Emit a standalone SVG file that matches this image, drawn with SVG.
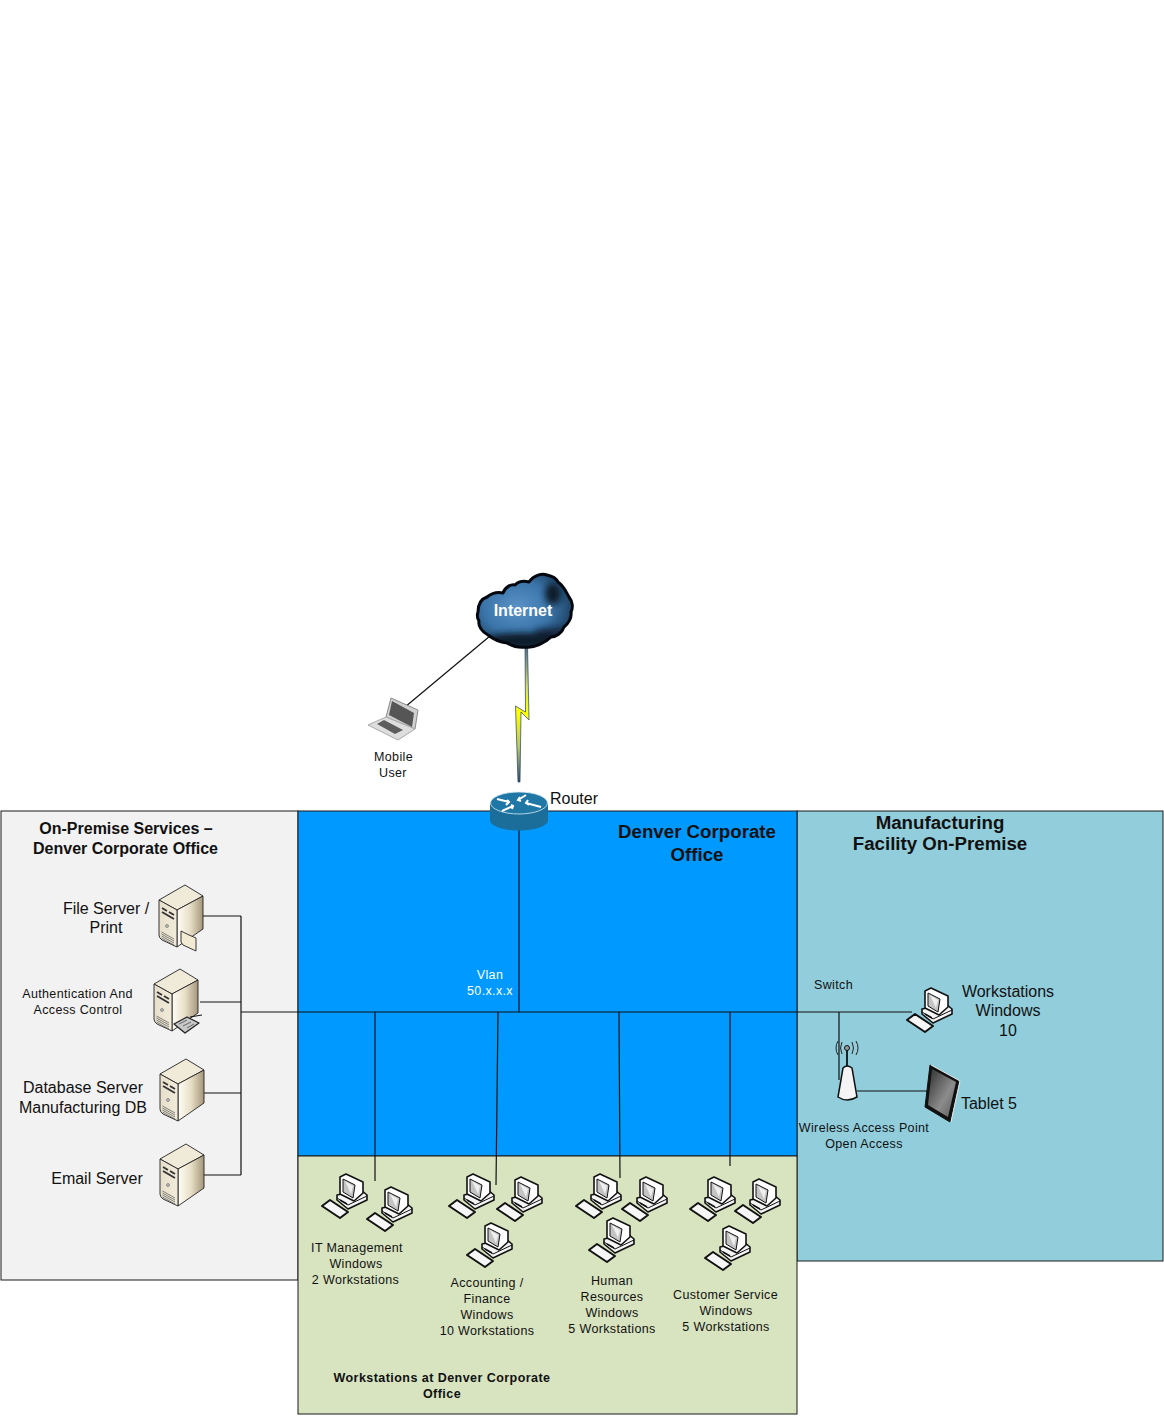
<svg xmlns="http://www.w3.org/2000/svg" width="1164" height="1416" viewBox="0 0 1164 1416">
<style>
text{font-family:"Liberation Sans",Arial,sans-serif;text-anchor:middle;fill:#111}
.s{font-size:12.500px;letter-spacing:.35px}
.m{font-size:16px}
.b{font-size:16px;font-weight:bold}
.b2{font-size:18.700px;font-weight:bold}
.b3{font-size:12.500px;font-weight:bold;letter-spacing:.45px}
.panel{stroke:#1a1a1a;stroke-width:1}
.ln{fill:none;stroke:#111;stroke-width:1.200}
</style>
<defs>
<linearGradient id="srvL" x1="0" y1="0" x2="1" y2="0"><stop offset="0" stop-color="#e6dfcb"/><stop offset="1" stop-color="#f1ebda"/></linearGradient>
<linearGradient id="srvR" x1="0" y1="0" x2="1" y2="0"><stop offset="0" stop-color="#fffdf6"/><stop offset=".5" stop-color="#e8dfc8"/><stop offset="1" stop-color="#a4967a"/></linearGradient>
<radialGradient id="cl" cx=".42" cy=".45" r=".6"><stop offset="0" stop-color="#5a92c8"/><stop offset=".6" stop-color="#3a74a8"/><stop offset="1" stop-color="#1d3f60"/></radialGradient>
<linearGradient id="bolt" x1="0" y1="0" x2="0" y2="1"><stop offset="0" stop-color="#4a6a92"/><stop offset=".3" stop-color="#d8e060"/><stop offset=".5" stop-color="#ffff00"/><stop offset=".75" stop-color="#b8c860"/><stop offset="1" stop-color="#2b4f80"/></linearGradient>
<linearGradient id="scr" x1="0" y1="0" x2="1" y2="1"><stop offset="0" stop-color="#2e2e2e"/><stop offset=".6" stop-color="#8c8c8c"/><stop offset="1" stop-color="#5a5a5a"/></linearGradient>
<filter id="blur" x="-40%" y="-40%" width="180%" height="180%"><feGaussianBlur stdDeviation="3"/></filter>
<clipPath id="cloudClip"><path d="M478 612C478 604 481 599 487 597 492 593 498 592 503 593 505 587 511 584 515 585 519 581 525 581 529 582 534 575 542 573 547 575 552 576 556 578 558 582 564 586 566 592 569 597 573 602 573 608 571 612 572 618 568 624 564 627 562 633 556 637 551 637 545 643 534 648 526 647 519 648 512 646 507 643 499 642 493 639 488 635 482 632 478 626 479 621 477 618 477 615 478 612Z"/></clipPath>
<symbol id="srv" viewBox="0 0 44 62" width="44" height="62" overflow="visible">
<path d="M0 15 26 0 44 11 18 25Z" fill="#f0ead9" stroke="#222" stroke-width=".9" stroke-linejoin="round"/>
<path d="M18 25 44 11V44L18 62Z" fill="url(#srvR)" stroke="#222" stroke-width=".9" stroke-linejoin="round"/>
<path d="M0 15 18 25V62L3 55Q0 53 0 50Z" fill="url(#srvL)" stroke="#222" stroke-width=".9" stroke-linejoin="round"/>
<path d="M3 23 8 26M10 27 15 30M3 27 15 34" stroke="#333" stroke-width="1.800" fill="none"/>
<circle cx="8" cy="41" r="1.500" fill="#bbb" stroke="#666" stroke-width=".6"/>
<path d="M2.500 47 15 54M2.500 49 15 56M2.500 51 15 58M2.500 53 15 60" stroke="#555" stroke-width=".7" fill="none"/>
</symbol>
<symbol id="ws" viewBox="0 0 44 44" width="44" height="44" overflow="visible">
<path d="M13 21 37 16 43 21V26L24 35 13 26Z" fill="#f4f4f4" stroke="#111" stroke-width="1.600" stroke-linejoin="round"/>
<path d="M13 24 24 31 43 22" fill="none" stroke="#111" stroke-width="1"/>
<path d="M16 26 23 30" stroke="#111" stroke-width="1.500"/>
<path d="M16 3 22 0 39 8 39 19 30 27 16 20Z" fill="#fff" stroke="#111" stroke-width="1.600" stroke-linejoin="round"/>
<path d="M19 5 31 11 29 24 19 18Z" fill="#c4c4c4" stroke="#111" stroke-width="1"/>
<path d="M21 7 29 12 27 20Z" fill="#efefef"/>
<path d="M-2 32 6 26 24 38 16 44Z" fill="#f6f6f6" stroke="#111" stroke-width="2" stroke-linejoin="round"/>
</symbol>
</defs>
<rect width="1164" height="1416" fill="#fff"/>
<g id="panels">
<rect id="panel-onprem" class="panel" x="1" y="811" width="297" height="469" fill="#f2f2f2"/>
<rect id="panel-mfg" class="panel" x="797" y="811" width="366" height="450" fill="#92cddc"/>
<rect id="panel-denver" class="panel" x="298" y="811" width="499" height="345" fill="#0099ff"/>
<rect id="panel-ws" class="panel" x="298" y="1156" width="499" height="258" fill="#d8e3bf"/>
</g>
<g id="connectors">
<path class="ln" d="M203 916H241M200 1002H241M203 1093H241M203 1175H241M241 916V1175M241 1012H912"/>
<path class="ln" d="M519 825V1012M375 1012V1181M498 1012 496 1185M619 1012 620 1178M730 1012V1166"/>
<path class="ln" d="M839 1012V1080M857 1091H930"/>
<path class="ln" d="M490 636 405 707"/>
<path id="bolt-link" d="M525 645H527.500L529 720 521 712 520 782H518L515.500 706 525.500 712Z" fill="url(#bolt)" stroke="#26415f" stroke-width=".7"/>
</g>
<g id="internet">
<path d="M478 612C478 604 481 599 487 597 492 593 498 592 503 593 505 587 511 584 515 585 519 581 525 581 529 582 534 575 542 573 547 575 552 576 556 578 558 582 564 586 566 592 569 597 573 602 573 608 571 612 572 618 568 624 564 627 562 633 556 637 551 637 545 643 534 648 526 647 519 648 512 646 507 643 499 642 493 639 488 635 482 632 478 626 479 621 477 618 477 615 478 612Z" fill="url(#cl)"/>
<g clip-path="url(#cloudClip)">
<g filter="url(#blur)" fill="#0a1a2c">
<ellipse cx="522" cy="641" rx="38" ry="8"/>
<ellipse cx="553" cy="594" rx="8" ry="11"/>
<ellipse cx="552" cy="632" rx="18" ry="4" opacity=".8"/>
</g>
</g>
<path d="M478 612C478 604 481 599 487 597 492 593 498 592 503 593 505 587 511 584 515 585 519 581 525 581 529 582 534 575 542 573 547 575 552 576 556 578 558 582 564 586 566 592 569 597 573 602 573 608 571 612 572 618 568 624 564 627 562 633 556 637 551 637 545 643 534 648 526 647 519 648 512 646 507 643 499 642 493 639 488 635 482 632 478 626 479 621 477 618 477 615 478 612Z" fill="none" stroke="#04080e" stroke-width="3" stroke-linejoin="round"/>
<text class="b" x="523" y="616" style="fill:#fff">Internet</text>
</g>
<g id="mobile-user">
<path d="M391 698 418 710 415 729 386 717Z" fill="#d0d0d0" stroke="#8a8a8a" stroke-width="1" stroke-linejoin="round"/>
<path d="M392 701 414 713 412 727 389 715Z" fill="#565656"/>
<path d="M386 717 415 729 398 740 368 725Z" fill="#dedede" stroke="#aaa" stroke-width="1" stroke-linejoin="round"/>
<path d="M384 720 403 730 395 734 377 724Z" fill="#5c5c5c"/>
<text class="s" x="393.500" y="761">Mobile</text>
<text class="s" x="393" y="777">User</text>
</g>
<g id="router">
<path d="M490 803V820C490 826 503 830.500 519 830.500S548 826 548 820V803Z" fill="#1b6d9a"/>
<ellipse cx="519" cy="803" rx="28.500" ry="11" fill="#1f77a6" stroke="#d8ecf4" stroke-width=".8"/>
<path d="M497 799 509 802M507 800 509 802 506 805M502 811 513 806M511 805 513 806 512 809M526 795 518 800M520 797 518 800 521 801M541 807 526 803M528 800 526 803 529 805" stroke="#fff" stroke-width="2" fill="none"/>
<text class="m" x="574" y="804">Router</text>
</g>
<g id="onprem-label"><text class="b" x="126" y="834">On-Premise Services –</text><text class="b" x="125.500" y="854">Denver Corporate Office</text></g>
<g id="file-server"><use href="#srv" x="159" y="885"/><path d="M181 931 189 935 196 938V951L183 945 181 942Z" fill="#f2ead2" stroke="#222" stroke-width=".9"/><text class="m" x="106" y="914">File Server /</text><text class="m" x="106" y="933">Print</text></g>
<g id="auth-server"><use href="#srv" x="154" y="969"/><path d="M190 1017 202 1015" stroke="#111" stroke-width="1"/><path d="M174 1024 187 1017 199 1023 185 1033Z" fill="#c8c8c8" stroke="#222" stroke-width="1.300" stroke-linejoin="round"/><path d="M179 1024 187 1020M183 1026 191 1022M187 1028 194 1024" stroke="#666" stroke-width="1"/><text class="s" x="77.500" y="998">Authentication And</text><text class="s" x="78" y="1014">Access Control</text></g>
<g id="db-server"><use href="#srv" x="160" y="1059"/><text class="m" x="83" y="1093">Database Server</text><text class="m" x="83" y="1113">Manufacturing DB</text></g>
<g id="email-server"><use href="#srv" x="160" y="1144"/><text class="m" x="97" y="1184">Email Server</text></g>
<g id="denver-label"><text class="b2" x="697" y="838">Denver Corporate</text><text class="b2" x="697" y="861">Office</text></g>
<g id="vlan"><text class="s" style="fill:#fff" x="490" y="979">Vlan</text><text class="s" style="fill:#fff" x="490" y="995">50.x.x.x</text></g>
<g id="mfg-label"><text class="b2" x="940" y="829">Manufacturing</text><text class="b2" x="940" y="850">Facility On-Premise</text></g>
<g id="switch-label"><text class="s" x="833.500" y="989">Switch</text></g>
<g id="mfg-workstations"><use href="#ws" x="909" y="988"/><text class="m" x="1008" y="997">Workstations</text><text class="m" x="1008" y="1016">Windows</text><text class="m" x="1008" y="1036">10</text></g>
<g id="wap">
<path d="M843 1068 838 1097Q847 1103 857 1097L852 1068Q847 1064 843 1068Z" fill="#f4f4f4" stroke="#111" stroke-width="1.500"/>
<path d="M847 1066V1050" stroke="#111" stroke-width="1.800"/><circle cx="847" cy="1048" r="2.500" fill="#999" stroke="#111" stroke-width="1"/>
<path d="M842 1042Q839 1048 842 1054M852 1042Q855 1048 852 1054M838 1041Q834 1048 838 1055M856 1041Q860 1048 856 1055" fill="none" stroke="#222" stroke-width="1"/>
<text class="s" x="864" y="1132">Wireless Access Point</text><text class="s" x="864" y="1148">Open Access</text>
</g>
<g id="tablet"><path d="M930 1065 959 1081 950 1122 925 1107Z" fill="#111" stroke="#111" stroke-width="1"/><path d="M932 1069 956 1082 948 1117 928 1105Z" fill="url(#scr)"/><path d="M931 1065 960 1081 951 1122" fill="none" stroke="#e4e4e4" stroke-width="1"/><text class="m" x="989" y="1109">Tablet 5</text></g>
<g id="it-group"><use href="#ws" x="324" y="1174"/><use href="#ws" x="369" y="1187"/><text class="s" x="357" y="1252">IT Management</text><text class="s" x="356" y="1268">Windows</text><text class="s" x="355.500" y="1284">2 Workstations</text></g>
<g id="acct-group"><use href="#ws" x="451" y="1174"/><use href="#ws" x="499" y="1177"/><use href="#ws" x="469" y="1223"/><text class="s" x="487" y="1287">Accounting /</text><text class="s" x="487" y="1303">Finance</text><text class="s" x="487" y="1319">Windows</text><text class="s" x="487" y="1335">10 Workstations</text></g>
<g id="hr-group"><use href="#ws" x="578" y="1174"/><use href="#ws" x="624" y="1177"/><use href="#ws" x="591" y="1218"/><text class="s" x="612" y="1285">Human</text><text class="s" x="612" y="1301">Resources</text><text class="s" x="612" y="1317">Windows</text><text class="s" x="612" y="1333">5 Workstations</text></g>
<g id="cs-group"><use href="#ws" x="692" y="1177"/><use href="#ws" x="737" y="1179"/><use href="#ws" x="707" y="1226"/><text class="s" x="725.500" y="1299">Customer Service</text><text class="s" x="726" y="1315">Windows</text><text class="s" x="726" y="1331">5 Workstations</text></g>
<g id="ws-label"><text class="b3" x="442" y="1382">Workstations at Denver Corporate</text><text class="b3" x="442" y="1398">Office</text></g>
</svg>
